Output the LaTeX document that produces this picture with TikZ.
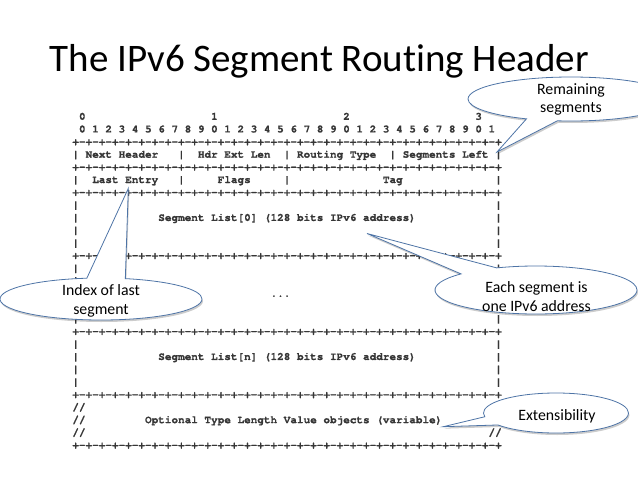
\documentclass[tikz,border=0pt]{standalone}
\usepackage{fontspec}
\setmainfont{Carlito}[Ligatures=NoCommon]
\newfontfamily\asciifont{TeX Gyre Cursor}[BoldFeatures={FakeBold=0.8}]
\usetikzlibrary{shapes.callouts,shadows}
\definecolor{asciigray}{HTML}{363636}
\definecolor{bubbleline}{RGB}{78,116,166}
\newcommand\sk[1]{\hspace*{#1\fontcharwd\font`0}}
\newcommand\plusline{+-+-+-+-+-+-+-+-+-+-+-+-+-+-+-+-+-+-+-+-+-+-+-+-+-+-+-+-+-+-+-+-+}
\newcommand\barline{|\sk{63}|}
\newcommand\slashline{//\sk{61}//}
\tikzset{
  asc/.style={anchor=base west, inner sep=0pt, font=\asciifont\bfseries\fontsize{11.01}{12}\selectfont, text=asciigray},
  bubble/.style={ellipse callout, draw=bubbleline, line width=0.8pt, fill=white, inner sep=0pt,
    drop shadow={shadow xshift=1pt, shadow yshift=-2pt, opacity=0.2, fill=black}},
  btext/.style={align=center, inner sep=0pt, font=\fontsize{15.8}{18.3}\selectfont},
}
\begin{document}
\begin{tikzpicture}[x=1pt,y=-1pt]
\useasboundingbox (0,0) rectangle (638,479);
\clip (0,0) rectangle (638,479);
\node[anchor=base west, inner sep=0pt, font=\fontsize{39}{40}\selectfont] (title) at (49.5,71.7) {The IPv6 Segment Routing Header};
% ASCII header diagram
\node[asc] (l0) at (72.2,119.8) {\sk{1}0\sk{19}1\sk{19}2\sk{19}3};
\node[asc] (l1) at (72.2,132.44) {\sk{1}0 1 2 3 4 5 6 7 8 9 0 1 2 3 4 5 6 7 8 9 0 1 2 3 4 5 6 7 8 9 0 1};
\node[asc] (l2) at (72.2,145.08) {\plusline};
\node[asc] (l3) at (72.2,157.72) {| Next Header\sk{3}|\sk{2}Hdr Ext Len\sk{2}| Routing Type\sk{2}| Segments Left |};
\node[asc] (l4) at (72.2,170.36) {\plusline};
\node[asc] (l5) at (72.2,183.0) {|\sk{2}Last Entry\sk{3}|\sk{5}Flags\sk{5}|\sk{14}Tag\sk{14}|};
\node[asc] (l6) at (72.2,195.64) {\plusline};
\node[asc] (l7) at (72.2,208.28) {\barline};
\node[asc] (l8) at (72.2,220.92) {|\sk{12}Segment List[0] (128 bits IPv6 address)\sk{12}|};
\node[asc] (l9) at (72.2,233.56) {\barline};
\node[asc] (l10) at (72.2,246.2) {\barline};
\node[asc] (l11) at (72.2,258.84) {\plusline};
\node[asc] (l12) at (72.2,271.48) {\barline};
\node[asc] (l13) at (72.2,284.12) {|};
\node[asc] (l14) at (72.2,296.76) {\sk{30}...};
\node[asc] (l16) at (72.2,322.04) {\barline};
\node[asc] (l17) at (72.2,334.68) {\plusline};
\node[asc] (l18) at (72.2,347.32) {\barline};
\node[asc] (l19) at (72.2,359.96) {|\sk{12}Segment List[n] (128 bits IPv6 address)\sk{12}|};
\node[asc] (l20) at (72.2,372.6) {\barline};
\node[asc] (l21) at (72.2,385.24) {\barline};
\node[asc] (l22) at (72.2,397.88) {\plusline};
\node[asc] (l23) at (72.2,410.52) {\slashline};
\node[asc] (l24) at (72.2,423.16) {//\sk{9}Optional Type Length Value objects (variable)\sk{7}//};
\node[asc] (l25) at (72.2,435.8) {\slashline};
\node[asc] (l26) at (72.2,448.44) {\plusline};
% callout tips
\coordinate (trem) at (497,152);
\coordinate (tidx) at (128.3,188.5);
\coordinate (teach) at (367,233.5);
\coordinate (text) at (443.3,426.7);
% callouts
\node[bubble, minimum width=206pt, minimum height=44pt, callout absolute pointer={(trem)}, callout pointer arc=18] (brem) at (571,99) {};
\node[bubble, minimum width=202pt, minimum height=42pt, callout absolute pointer={(tidx)}, callout pointer arc=22] (bidx) at (101,299) {};
\node[bubble, minimum width=202pt, minimum height=48pt, callout absolute pointer={(teach)}, callout pointer arc=25] (beach) at (536,290) {};
\node[bubble, minimum width=145pt, minimum height=40pt, callout absolute pointer={(text)}, callout pointer arc=26] (bext) at (556,413) {};
% callout texts
\node[btext] (rem) at (571,99.5) {Remaining\\segments};
\node[btext] (idx) at (101,301) {Index of last\\segment};
\node[btext] (each) at (536.5,296.5) {Each segment is\\one IPv6 address};
\node[btext] (ext) at (557,416) {Extensibility};
\end{tikzpicture}
\end{document}
